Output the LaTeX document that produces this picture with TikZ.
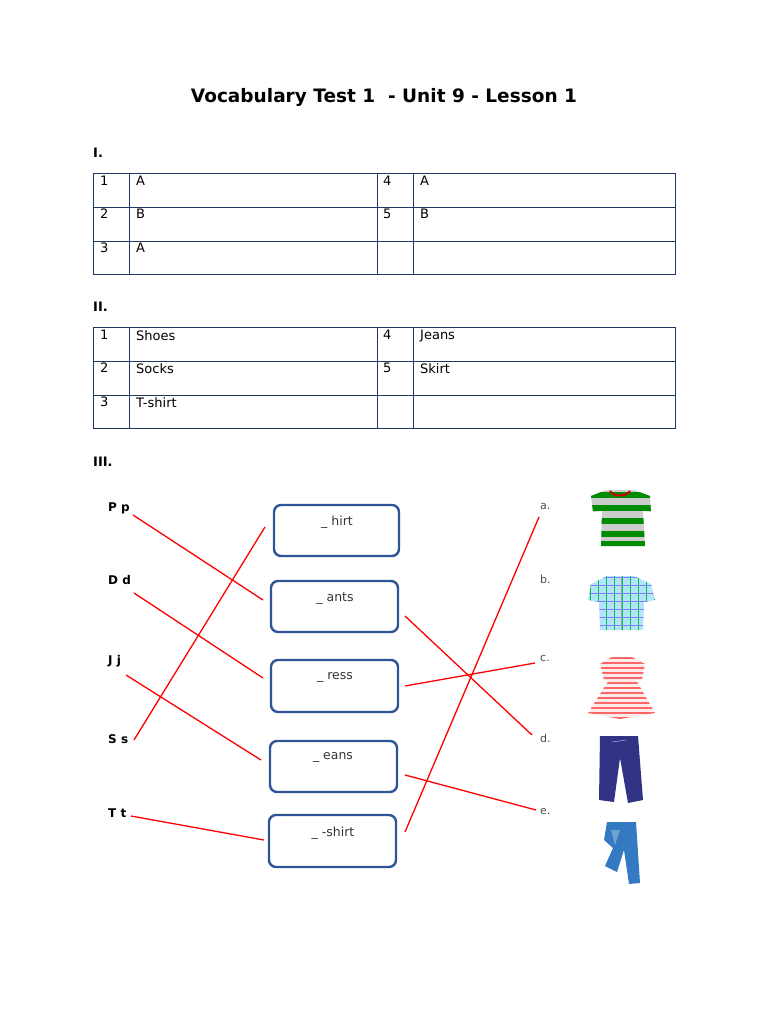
\documentclass[tikz,border=0pt]{standalone}
\usepackage{fontspec}
\setmainfont{DejaVu Sans}
\definecolor{boxblue}{RGB}{47,85,151}
\definecolor{tblue}{RGB}{31,56,100}
\begin{document}
\begin{tikzpicture}[x=1pt,y=-1pt,
 tb/.style={draw=tblue,line width=0.8pt},
 cell/.style={anchor=north west,inner sep=0pt,font=\fontsize{13}{15}\selectfont},
 wbox/.style={draw=boxblue,line width=2.4pt,rounded corners=7pt},
 wtxt/.style={anchor=north,inner sep=0pt,font=\fontsize{12.5}{14}\selectfont,text=black!80},
 redl/.style={red,line width=1.3pt},
 lett/.style={anchor=north west,inner sep=0pt,font=\bfseries\fontsize{12}{14}\selectfont},
 opt/.style={anchor=north west,inner sep=0pt,font=\fontsize{11}{13}\selectfont,text=black!70}]
\useasboundingbox (0,0) rectangle (768,1024);
\node[font=\bfseries\fontsize{18.5}{21}\selectfont] (title) at (384,97) {Vocabulary Test 1\ \ - Unit 9 - Lesson 1};
\node[lett,font=\bfseries\fontsize{13}{15}\selectfont] (h1) at (93,148) {I.};
\node[lett,font=\bfseries\fontsize{13}{15}\selectfont] (h2) at (93,302) {II.};
\node[lett,font=\bfseries\fontsize{13}{15}\selectfont] (h3) at (93,457) {III.};
% table I
\draw[tb] (93,173) rectangle (675,274);
\foreach \y in {207,241} \draw[tb] (93,\y) -- (675,\y);
\foreach \x in {129,377,413} \draw[tb] (\x,173) -- (\x,274);
\node[cell] (t11) at (100,176) {1}; \node[cell] (t12) at (136,176) {A};
\node[cell] (t13) at (383,176) {4}; \node[cell] (t14) at (420,176) {A};
\node[cell] (t21) at (100,209) {2}; \node[cell] (t22) at (136,209) {B};
\node[cell] (t23) at (383,209) {5}; \node[cell] (t24) at (420,209) {B};
\node[cell] (t31) at (100,243) {3}; \node[cell] (t32) at (136,243) {A};
% table II
\draw[tb] (93,327) rectangle (675,428);
\foreach \y in {361,395} \draw[tb] (93,\y) -- (675,\y);
\foreach \x in {129,377,413} \draw[tb] (\x,327) -- (\x,428);
\node[cell] (u11) at (100,330) {1}; \node[cell] (u12) at (136,330) {Shoes};
\node[cell] (u13) at (383,330) {4}; \node[cell] (u14) at (420,330) {Jeans};
\node[cell] (u21) at (100,363) {2}; \node[cell] (u22) at (136,363) {Socks};
\node[cell] (u23) at (383,363) {5}; \node[cell] (u24) at (420,363) {Skirt};
\node[cell] (u31) at (100,397) {3}; \node[cell] (u32) at (136,397) {T-shirt};
% letters
\node[lett] (Pp) at (108,503) {P p};
\node[lett] (Dd) at (108,575) {D d};
\node[lett] (Jj) at (108,655) {J j};
\node[lett] (Ss) at (108,734) {S s};
\node[lett] (Tt) at (108,809) {T t};
% word boxes
\draw[wbox] (274,505) rectangle (399,556); \node[wtxt] (w1) at (337,516) {\_ hirt};
\draw[wbox] (271,581) rectangle (398,632); \node[wtxt] (w2) at (335,593) {\_ ants};
\draw[wbox] (271,660) rectangle (398,712); \node[wtxt] (w3) at (335,672) {\_ ress};
\draw[wbox] (270,741) rectangle (397,792); \node[wtxt] (w4) at (333,752) {\_ eans};
\draw[wbox] (269,815) rectangle (396,867); \node[wtxt] (w5) at (333,827) {\_ -shirt};
% options
\node[opt] (oa) at (540,503) {a.};
\node[opt] (ob) at (540,575) {b.};
\node[opt] (oc) at (540,655) {c.};
\node[opt] (od) at (540,734) {d.};
\node[opt] (oe) at (540,808) {e.};
% coordinates of line ends
\coordinate (pp) at (133,515); \coordinate (p2) at (263,600);
\coordinate (dd) at (134,593); \coordinate (d2) at (263,678);
\coordinate (jj) at (126,675); \coordinate (j2) at (261,760);
\coordinate (ss) at (134,740); \coordinate (s2) at (265,527);
\coordinate (tt) at (131,816); \coordinate (t2) at (264,840);
\coordinate (a1) at (405,616); \coordinate (ad) at (532,735);
\coordinate (r1) at (405,686); \coordinate (rc) at (535,663);
\coordinate (e1) at (405,775); \coordinate (ee) at (536,810);
\coordinate (s5) at (405,832); \coordinate (sa) at (539,517);
\draw[redl] (pp) -- (p2); \draw[redl] (dd) -- (d2); \draw[redl] (jj) -- (j2);
\draw[redl] (ss) -- (s2); \draw[redl] (tt) -- (t2); \draw[redl] (a1) -- (ad);
\draw[redl] (r1) -- (rc); \draw[redl] (e1) -- (ee); \draw[redl] (s5) -- (sa);
% pictures
% a: green striped t-shirt
\begin{scope}
\clip (606,490) -- (591,496) -- (593,512) -- (602,511) -- (601,546) -- (645,546) -- (643,511) -- (651,512) -- (650,496) -- (634,490) -- cycle;
\fill[gray!40] (588,488) rectangle (655,548);
\foreach \y in {492,505,518,531,541} \fill[green!55!black] (588,\y) rectangle (655,\y+6);
\end{scope}
\draw[red!80!black,line width=2pt] (610,491) .. controls (614,497) and (626,497) .. (630,491);
% b: plaid shirt
\begin{scope}
\clip (607,576) -- (591,584) -- (588,600) -- (599,602) -- (600,630) -- (643,630) -- (644,602) -- (655,600) -- (651,584) -- (634,576) -- cycle;
\fill[cyan!30] (586,574) rectangle (657,632);
\foreach \x in {590,598,...,656} \draw[green!50!teal,line width=1pt] (\x,574) -- (\x,632);
\foreach \y in {577,585,...,632} \draw[blue!50,line width=1pt] (586,\y) -- (657,\y);
\end{scope}
\draw[gray!70] (621,578) -- (621,630);
% c: red striped dress
\begin{scope}
\clip (612,657) -- (600,664) -- (604,680) -- (609,680) -- (588,713) -- (620,719) -- (655,713) -- (636,680) -- (642,680) -- (645,664) -- (632,657) -- cycle;
\fill[red!8] (586,655) rectangle (657,720);
\foreach \y in {658,663,...,720} \draw[red!60,line width=1.5pt] (586,\y) -- (657,\y);
\end{scope}
% d: dark blue pants
\fill[blue!40!black!80] (600,736) -- (638,736) -- (643,800) -- (628,803) -- (620,758) -- (614,802) -- (599,800) -- cycle;
\draw[white!70!blue,line width=0.5pt] (612,742) -- (626,740);
% e: jeans
\fill[blue!50!cyan!70!black!80] (607,822) -- (636,822) -- (640,883) -- (629,884) -- (624,850) -- (617,872) -- (605,866) -- (613,848) -- (604,840) -- cycle;
\fill[white,opacity=0.3] (611,830) -- (620,830) -- (615,845) -- cycle;
\end{tikzpicture}
\end{document}
